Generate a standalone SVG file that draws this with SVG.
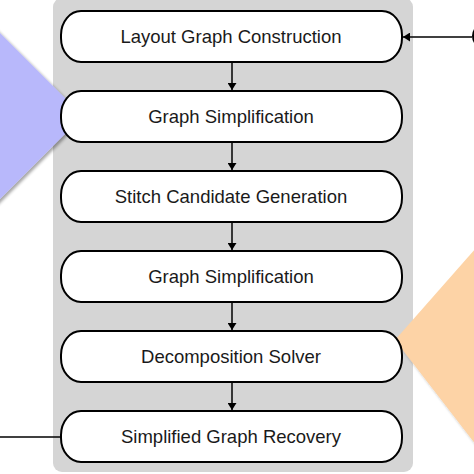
<svg xmlns="http://www.w3.org/2000/svg" width="474" height="474" viewBox="0 0 474 474">
  <defs>
    <filter id="sh" x="-20%" y="-20%" width="140%" height="140%">
      <feDropShadow dx="2" dy="2" stdDeviation="1.5" flood-color="#000" flood-opacity="0.35"/>
    </filter>
    <marker id="ah2" viewBox="0 0 10 10" refX="10" refY="5" markerWidth="7" markerHeight="9" markerUnits="userSpaceOnUse" orient="auto" preserveAspectRatio="none">
      <path d="M0,0 L10,5 L0,10 Z" fill="#000"/>
    </marker>
  </defs>
  <style>
    .box { fill: #ffffff; stroke: #000000; stroke-width: 2; }
    .lbl { font-family: "Liberation Sans", Arial, sans-serif; font-size: 18.5px; fill: #1a1a1a; text-anchor: middle; }
    .conn { stroke: #000000; stroke-width: 1.5; fill: none; }
  </style>
  <rect width="474" height="474" fill="#ffffff"/>
  <rect id="panel" x="53" y="-2" width="360" height="474" rx="9" ry="9" fill="#d5d5d5"/>
  <polygon id="blue-diamond" points="83,116 -60,-27 -60,259" fill="#b8b8fb" filter="url(#sh)"/>
  <polygon id="orange-diamond" points="395,340 520,198 520,502" fill="#fdd3a6" filter="url(#sh)"/>
  <g id="connectors">
    <line class="conn" x1="232" y1="62" x2="232" y2="90" marker-end="url(#ah2)"/>
    <line class="conn" x1="232" y1="142" x2="232" y2="170" marker-end="url(#ah2)"/>
    <line class="conn" x1="232" y1="222" x2="232" y2="250" marker-end="url(#ah2)"/>
    <line class="conn" x1="232" y1="302" x2="232" y2="330" marker-end="url(#ah2)"/>
    <line class="conn" x1="232" y1="382" x2="232" y2="410" marker-end="url(#ah2)"/>
    <line class="conn" x1="472" y1="37" x2="403" y2="37" marker-end="url(#ah2)"/>
    <line class="conn" x1="0" y1="437" x2="61" y2="437"/>
    <ellipse cx="481" cy="36" rx="9" ry="11" fill="#000"/>
  </g>
  <g id="n1">
    <rect class="box" x="61" y="11" width="341" height="51" rx="20" ry="24"/>
    <text class="lbl" x="231" y="43">Layout Graph Construction</text>
  </g>
  <g id="n2">
    <rect class="box" x="61" y="91" width="341" height="51" rx="20" ry="24"/>
    <text class="lbl" x="231" y="123">Graph Simplification</text>
  </g>
  <g id="n3">
    <rect class="box" x="61" y="171" width="341" height="51" rx="20" ry="24"/>
    <text class="lbl" x="231" y="203">Stitch Candidate Generation</text>
  </g>
  <g id="n4">
    <rect class="box" x="61" y="251" width="341" height="51" rx="20" ry="24"/>
    <text class="lbl" x="231" y="283">Graph Simplification</text>
  </g>
  <g id="n5">
    <rect class="box" x="61" y="331" width="341" height="51" rx="20" ry="24"/>
    <text class="lbl" x="231" y="363">Decomposition Solver</text>
  </g>
  <g id="n6">
    <rect class="box" x="61" y="411" width="341" height="51" rx="20" ry="24"/>
    <text class="lbl" x="231" y="443">Simplified Graph Recovery</text>
  </g>
</svg>
